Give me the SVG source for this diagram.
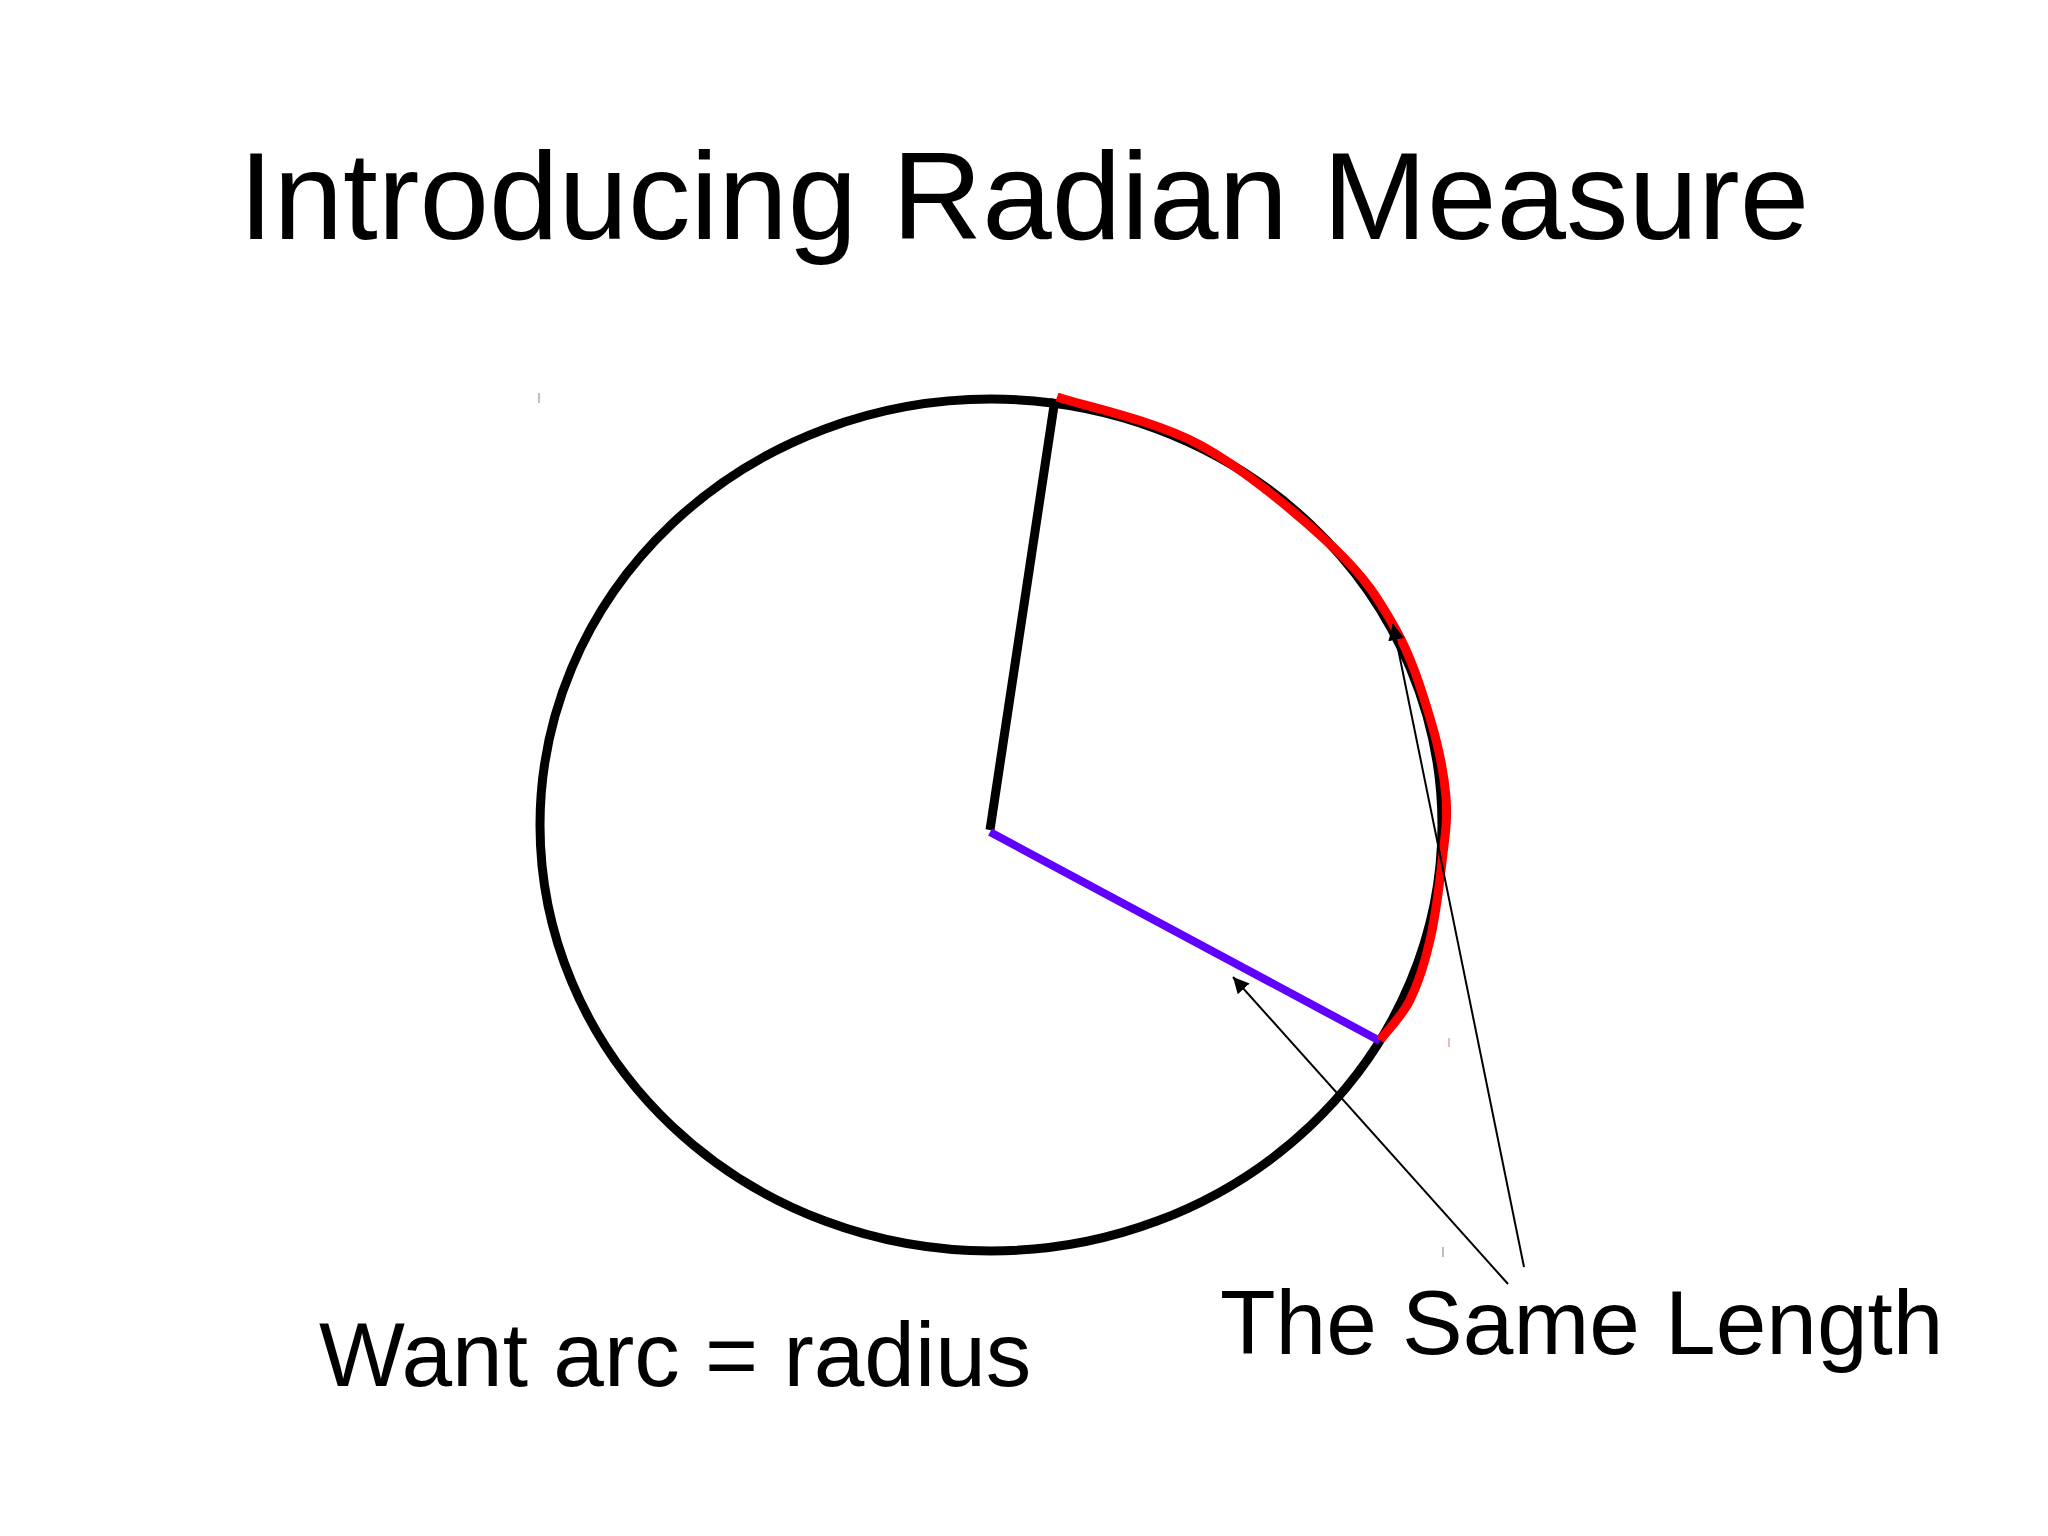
<svg xmlns="http://www.w3.org/2000/svg" width="2048" height="1536" viewBox="0 0 2048 1536">
  <style>
    .txt { font-family: "Liberation Sans", Arial, sans-serif; fill: #000; }
    .title { font-size: 125px; }
    .label { font-size: 91px; }
    .pointer { stroke: #000; stroke-width: 2; fill: none; marker-end: url(#arrow); }
    .tick { stroke-width: 1.5; }
  </style>
  <defs>
    <marker id="arrow" markerUnits="userSpaceOnUse" markerWidth="20" markerHeight="18" refX="16" refY="8" orient="auto">
      <path d="M0,0 L16,8 L0,16 z" fill="#000"/>
    </marker>
  </defs>
  <rect width="2048" height="1536" fill="#fff"/>

  <g id="title">
    <text class="txt title" x="1024" y="239" text-anchor="middle">Introducing Radian Measure</text>
  </g>

  <g id="circle">
    <ellipse cx="991" cy="825" rx="451" ry="426" fill="none" stroke="#000" stroke-width="9"/>
  </g>

  <g id="radius-black">
    <line x1="990" y1="830" x2="1055" y2="399" stroke="#000" stroke-width="9"/>
  </g>

  <g id="radius-purple">
    <line x1="990" y1="832" x2="1380" y2="1041" stroke="#6000FF" stroke-width="8"/>
  </g>

  <g id="arc-red">
    <path d="M1057,397 C1080.8,405 1154,420 1200,445 C1246,470 1300.5,516.5 1333,547 C1365.5,577.5 1378.8,599.5 1395,628 C1411.2,656.5 1421.5,689.8 1430,718 C1438.5,746.2 1444,773 1446,797 C1448,821 1444.7,838.2 1442,862 C1439.3,885.8 1435.3,917 1430,940 C1424.7,963 1418.3,983.3 1410,1000 C1401.7,1016.7 1385,1033.3 1380,1040" fill="none" stroke="#FF0000" stroke-width="9" stroke-linecap="butt"/>
  </g>

  <g id="ticks">
    <line class="tick" x1="539" y1="393" x2="539" y2="403" stroke="#aaaaaa"/>
    <line class="tick" x1="1449" y1="1038" x2="1449" y2="1047" stroke="#f2a0a0"/>
    <line class="tick" x1="1443" y1="1247" x2="1443" y2="1257" stroke="#aaaaaa"/>
  </g>

  <g id="connectors">
    <line class="pointer" x1="1508" y1="1284" x2="1233" y2="977"/>
    <line class="pointer" x1="1524" y1="1267" x2="1393" y2="624"/>
  </g>

  <g id="label-want">
    <text class="txt label" x="319" y="1386">Want arc = radius</text>
  </g>

  <g id="label-same">
    <text class="txt label" x="1220" y="1354">The Same Length</text>
  </g>
</svg>
